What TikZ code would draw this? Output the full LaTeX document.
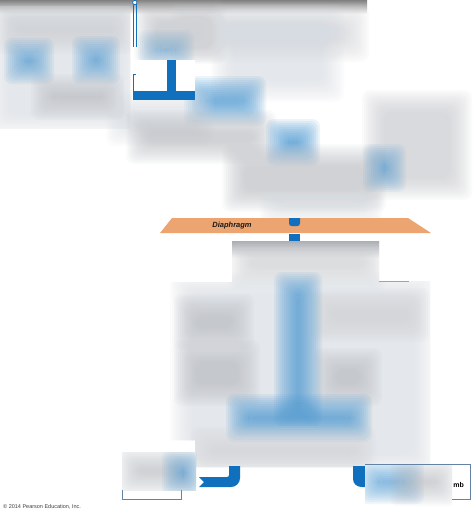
\documentclass[tikz,border=0pt]{standalone}
\usepackage{fontspec}
\setmainfont{Liberation Sans}
\definecolor{vblue}{RGB}{16,112,190}
\definecolor{bgrey}{RGB}{165,168,175}
\definecolor{bblue}{RGB}{70,150,210}
\definecolor{haze}{RGB}{215,220,226}
\definecolor{dorange}{RGB}{236,164,112}
\definecolor{boxline}{RGB}{100,130,165}
\newcommand\blurbox[6][0.07]{%
  \foreach \e in {-8,-6,...,14}{%
    \fill[#6,opacity=#1,rounded corners=8pt] ({#2-\e},{#3-\e}) rectangle ({#4+\e},{#5+\e});}}
\tikzset{
  boxstyle/.style={draw=boxline, line width=0.8pt, inner sep=0pt, anchor=north west},
  vessel/.style={fill=vblue},
  thinvessel/.style={draw=vblue, line width=0.8pt}
}
\begin{document}
\begin{tikzpicture}[x=1pt,y=-1pt]
\useasboundingbox (0,0) rectangle (474,514);
\fill[white] (0,0) rectangle (474,514);

% top band
\shade[top color=black!50, bottom color=white] (0,0) rectangle (367,14);

% top-left blurred region
\begin{scope}
  \clip (0,6) rectangle (130,128);
  \blurbox{0}{10}{130}{122}{haze}
  \blurbox{10}{18}{120}{40}{bgrey!60}
  \blurbox[0.08]{18}{52}{40}{70}{bblue}
  \blurbox[0.08]{86}{50}{106}{70}{bblue}
  \blurbox{45}{88}{110}{106}{bgrey!80}
\end{scope}

% top-middle blurred region
\blurbox{148}{14}{212}{50}{bgrey!80}
\blurbox{185}{18}{355}{48}{bgrey!50}
\blurbox{225}{18}{330}{88}{haze}
\blurbox[0.05]{152}{44}{180}{56}{bblue}
\blurbox[0.09]{198}{90}{252}{112}{bblue}

% middle blurred region
\blurbox{120}{104}{200}{132}{haze}
\blurbox{140}{124}{262}{150}{bgrey!80}
\blurbox[0.1]{280}{133}{306}{152}{bblue}
\blurbox{236}{158}{372}{198}{bgrey!80}
\blurbox{376}{104}{458}{186}{bgrey!65}
\blurbox[0.07]{377}{158}{392}{178}{bblue}
\blurbox{274}{200}{368}{212}{haze}

% white box with T junction
\fill[white] (132,60) rectangle (195,100);
\fill[vessel] (167,60) rectangle (176,92);
\fill[vessel] (133,91) rectangle (195,100);
\draw[thinvessel] (133,4) -- (133,47);
\draw[thinvessel] (136.5,4) -- (136.5,47);
\draw[thinvessel, fill=white] (134.8,2.5) circle (2.2);
\draw[thinvessel] (135.5,74) -- (133,74) -- (133,91);

% diaphragm
\fill[dorange] (160,233) -- (172,218) -- (408,218) -- (431,233) -- cycle;
\node[font=\bfseries\itshape\fontsize{7.5}{9}\selectfont, text=black!90] (dia) at (232,226) {Diaphragm};
\fill[vessel] (289,218) -- (289,223) .. controls (289,225.5) and (290,226) .. (292,226) -- (297,226) .. controls (299,226) and (300,225.5) .. (300,223) -- (300,218) -- cycle;
\fill[vessel] (289,234) rectangle (300,241.5);

% lower blurred region
\begin{scope}
  \clip (232,241) -- (379,241) -- (379,281) -- (430,281) -- (430,467) -- (195,467) -- (195,440) -- (165,440) -- (165,282) -- (232,282) -- cycle;
  \shade[top color=bgrey, bottom color=white] (232,241) rectangle (379,258);
  \blurbox{242}{250}{372}{276}{bgrey!60}
  \blurbox{184}{286}{422}{462}{haze}
  \blurbox{188}{308}{240}{336}{bgrey!80}
  \blurbox{188}{354}{246}{392}{bgrey!80}
  \blurbox{324}{302}{416}{328}{bgrey!55}
  \blurbox{328}{362}{368}{392}{bgrey!80}
  \blurbox[0.09]{288}{286}{308}{412}{bblue}
  \blurbox[0.09]{240}{408}{358}{428}{bblue}
  \blurbox{204}{440}{362}{462}{bgrey!50}
\end{scope}
\draw[boxline!70, line width=0.6pt] (379,281) -- (409,281);

% boxes
\node[boxstyle, minimum width=59pt, minimum height=32pt] (lbox) at (122,467) {};
\node[boxstyle, anchor=north east, minimum width=105pt, minimum height=35pt] (rbox) at (471,464) {};
\node[font=\bfseries\fontsize{7}{8}\selectfont, anchor=east, inner sep=0pt] (mb) at (464,485) {mb};

% pipes
\fill[vessel] (199,477) -- (204,482) -- (199,487) -- (231,487) .. controls (236,487) and (240,483) .. (240,478) -- (240,466) -- (229,466) -- (229,475) .. controls (229,476.2) and (228.2,477) .. (227,477) -- cycle;
\fill[vessel] (353,466) -- (353,479) .. controls (353,484) and (357,487) .. (362,487) -- (372,487) -- (372,477) -- (367,477) .. controls (365.8,477) and (365,476.2) .. (365,475) -- (365,466) -- cycle;

% bottom patches
\begin{scope}
  \clip (122,452) rectangle (196,490);
  \fill[white] (122,452) rectangle (196,490);
  \blurbox{130}{460}{186}{482}{bgrey!80}
  \blurbox[0.07]{176}{464}{190}{482}{bblue}
\end{scope}
\begin{scope}
  \clip (365,465) rectangle (452,510);
  \fill[white] (365,465) rectangle (452,510);
  \blurbox[0.08]{372}{474}{410}{490}{bblue}
  \blurbox{404}{472}{444}{492}{bgrey!80}
\end{scope}

\node[anchor=west, font=\fontsize{5.5}{6}\selectfont, text=black!75, inner sep=0pt] (copy) at (3,507) {© 2014 Pearson Education, Inc.};
\end{tikzpicture}
\end{document}
